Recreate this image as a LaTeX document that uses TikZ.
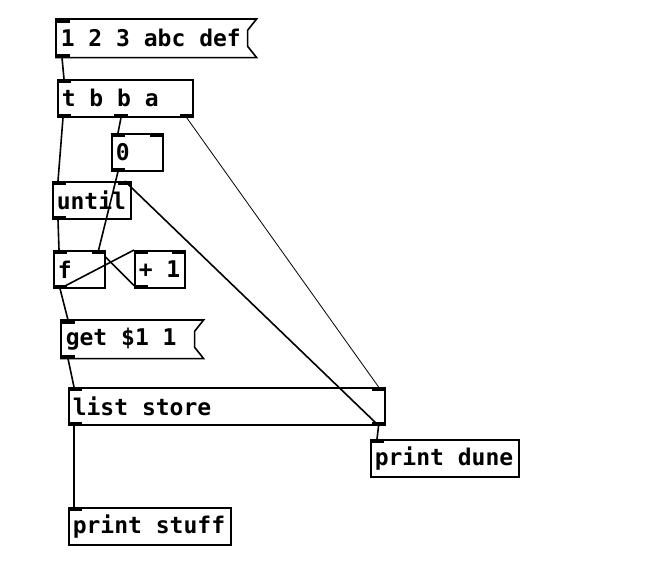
\documentclass[tikz,border=0pt]{standalone}
\usepackage{fontspec}
\newfontfamily\pdfont{DejaVu Sans Mono}
\newcommand\pdspace{\spaceskip=13.85pt\relax\xspaceskip=13.85pt\relax}
\begin{document}
\begin{tikzpicture}[x=1pt,y=-1pt,
  obj/.style={draw,line width=1.6pt,anchor=north west,inner xsep=4pt,inner ysep=0pt,minimum height=37pt,align=left,font=\pdfont\bfseries\fontsize{23}{23}\selectfont,execute at begin node=\pdspace},
  msg/.style={obj,draw=none},
  wire/.style={line width=1.6pt},
  thin/.style={line width=0.8pt}]
\useasboundingbox (0,0) rectangle (648,572);
\newcommand\port[2]{\fill (#1) rectangle ++(14,#2);}
% nodes
\node[msg,text width=191pt] (m1) at (56,19) {1 2 3 abc def};
\draw[line width=1.6pt] (m1.north west) -- (m1.north east) -- ([xshift=-9pt,yshift=8pt]m1.east) -- ([xshift=-9pt,yshift=-8pt]m1.east) -- (m1.south east) -- (m1.south west) -- cycle;
\node[obj,text width=127pt] (t) at (57,79) {t b b a};
\node[obj,text width=43pt] (z) at (111,133) {0};
\node[obj,text width=70pt] (u) at (52,181) {until};
\node[obj,text width=43pt] (f) at (53,250) {f};
\node[obj,text width=42pt] (p) at (134,250) {+ 1};
\node[msg,text width=133pt] (g) at (61,320) {get \$1 1};
\draw[line width=1.6pt] (g.north west) -- (g.north east) -- ([xshift=-9pt,yshift=8pt]g.east) -- ([xshift=-9pt,yshift=-8pt]g.east) -- (g.south east) -- (g.south west) -- cycle;
\node[obj,text width=308pt] (l) at (68,387) {list store};
\node[obj,text width=140pt] (pd) at (370,439) {print dune};
\node[obj,text width=154pt] (ps) at (68,507) {print stuff};
% ports
\port{m1.north west}{4} \port{m1.south west}{-4}
\port{t.north west}{4} \port{t.south west}{-4} \port{[xshift=57pt]t.south west}{-4} \port{[xshift=-14pt]t.south east}{-4}
\port{z.north west}{4} \port{[xshift=-14pt]z.north east}{4} \port{z.south west}{-4}
\port{u.north west}{4} \port{[xshift=-14pt]u.north east}{4} \port{u.south west}{-4}
\port{f.north west}{4} \port{[xshift=-14pt]f.north east}{4} \port{f.south west}{-4}
\port{p.north west}{4} \port{[xshift=-14pt]p.north east}{4} \port{p.south west}{-4}
\port{g.north west}{4} \port{g.south west}{-4}
\port{l.north west}{4} \port{[xshift=-14pt]l.north east}{4} \port{l.south west}{-4} \port{[xshift=-14pt]l.south east}{-4}
\port{pd.north west}{4}
\port{ps.north west}{4}
% wires
\draw[wire] ([xshift=6pt]m1.south west) -- ([xshift=7pt]t.north west);
\draw[wire] ([xshift=6pt]t.south west) -- ([xshift=6pt]u.north west);
\draw[wire] ([xshift=64pt]t.south west) -- ([xshift=7pt]z.north west);
\draw[thin] ([xshift=-7pt]t.south east) -- ([xshift=-7pt]l.north east);
\draw[wire] ([xshift=7pt]z.south west) -- ([xshift=-7pt]f.north east);
\draw[wire] ([xshift=6pt]u.south west) -- ([xshift=6pt]f.north west);
\draw[wire] ([xshift=-7pt]u.north east) -- ([xshift=-7pt]l.south east);
\draw[wire] ([xshift=7pt]f.south west) -- ([xshift=0pt]p.north west);
\draw[wire] ([xshift=0pt,yshift=-7pt]f.north east) -- ([xshift=0pt,yshift=3pt]p.south west);
\draw[wire] ([xshift=7pt]f.south west) -- ([xshift=7pt]g.north west);
\draw[wire] ([xshift=7pt]g.south west) -- ([xshift=6pt]l.north west);
\draw[wire] ([xshift=6pt]l.south west) -- ([xshift=6pt]ps.north west);
\draw[wire] ([xshift=-7pt]l.south east) -- ([xshift=7pt]pd.north west);
\end{tikzpicture}
\end{document}
